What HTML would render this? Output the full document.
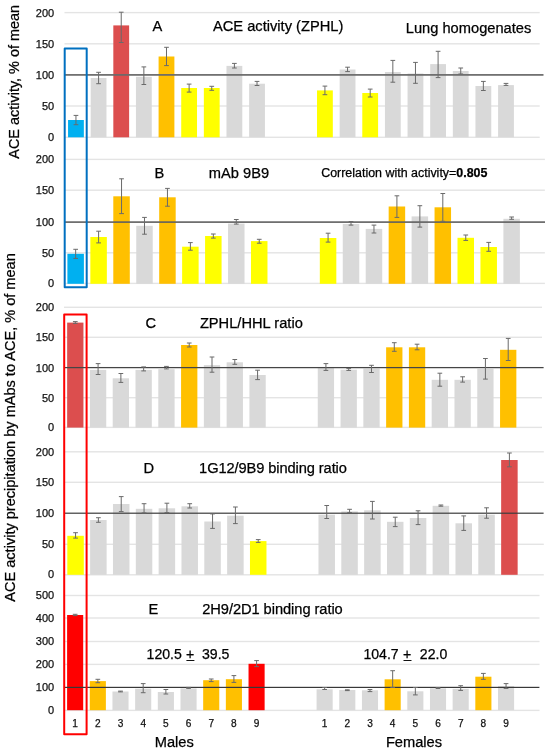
<!DOCTYPE html>
<html><head><meta charset="utf-8"><style>
html,body{margin:0;padding:0;background:#fff;}
svg{display:block;}
text{font-family:"Liberation Sans",Arial,sans-serif;fill:#000;stroke:#000;stroke-width:0.25px;white-space:pre;}
text.lab{fill:#111;stroke:#111;}
</style></head><body>
<svg width="550" height="752" viewBox="0 0 550 752">
<rect x="0" y="0" width="550" height="752" fill="#fff"/>
<rect x="64.50" y="11.90" width="475.20" height="1.40" fill="#E4E4E4"/>
<rect x="64.50" y="43.10" width="475.20" height="1.40" fill="#E4E4E4"/>
<rect x="64.50" y="105.30" width="475.20" height="1.40" fill="#E4E4E4"/>
<rect x="64.50" y="136.60" width="475.20" height="1.40" fill="#E4E4E4"/>
<rect x="68.05" y="120.00" width="15.80" height="17.30" fill="#00B0F0"/>
<rect x="90.68" y="78.00" width="15.80" height="59.30" fill="#D9D9D9"/>
<rect x="113.32" y="25.40" width="15.80" height="111.90" fill="#DC4E4E"/>
<rect x="135.95" y="76.80" width="15.80" height="60.50" fill="#D9D9D9"/>
<rect x="158.59" y="56.50" width="15.80" height="80.80" fill="#FFC000"/>
<rect x="181.22" y="88.00" width="15.80" height="49.30" fill="#FFFF00"/>
<rect x="203.85" y="88.00" width="15.80" height="49.30" fill="#FFFF00"/>
<rect x="226.49" y="65.90" width="15.80" height="71.40" fill="#D9D9D9"/>
<rect x="249.12" y="83.70" width="15.80" height="53.60" fill="#D9D9D9"/>
<rect x="317.02" y="90.40" width="15.80" height="46.90" fill="#FFFF00"/>
<rect x="339.66" y="69.50" width="15.80" height="67.80" fill="#D9D9D9"/>
<rect x="362.29" y="93.00" width="15.80" height="44.30" fill="#FFFF00"/>
<rect x="384.93" y="72.00" width="15.80" height="65.30" fill="#D9D9D9"/>
<rect x="407.56" y="73.50" width="15.80" height="63.80" fill="#D9D9D9"/>
<rect x="430.19" y="64.10" width="15.80" height="73.20" fill="#D9D9D9"/>
<rect x="452.83" y="71.00" width="15.80" height="66.30" fill="#D9D9D9"/>
<rect x="475.46" y="86.00" width="15.80" height="51.30" fill="#D9D9D9"/>
<rect x="498.10" y="85.10" width="15.80" height="52.20" fill="#D9D9D9"/>
<rect x="64.50" y="74.05" width="479.00" height="1.70" fill="#6a6a6a"/>
<rect x="75.45" y="115.40" width="1.00" height="9.30" fill="#6a6a6a"/>
<rect x="73.60" y="114.90" width="4.70" height="1.00" fill="#6a6a6a"/>
<rect x="73.60" y="124.20" width="4.70" height="1.00" fill="#6a6a6a"/>
<rect x="98.08" y="72.30" width="1.00" height="11.40" fill="#6a6a6a"/>
<rect x="96.23" y="71.80" width="4.70" height="1.00" fill="#6a6a6a"/>
<rect x="96.23" y="83.20" width="4.70" height="1.00" fill="#6a6a6a"/>
<rect x="120.72" y="12.20" width="1.00" height="30.30" fill="#6a6a6a"/>
<rect x="118.87" y="11.70" width="4.70" height="1.00" fill="#6a6a6a"/>
<rect x="118.87" y="42.00" width="4.70" height="1.00" fill="#6a6a6a"/>
<rect x="143.35" y="66.90" width="1.00" height="17.60" fill="#6a6a6a"/>
<rect x="141.50" y="66.40" width="4.70" height="1.00" fill="#6a6a6a"/>
<rect x="141.50" y="84.00" width="4.70" height="1.00" fill="#6a6a6a"/>
<rect x="165.99" y="47.30" width="1.00" height="18.30" fill="#6a6a6a"/>
<rect x="164.14" y="46.80" width="4.70" height="1.00" fill="#6a6a6a"/>
<rect x="164.14" y="65.10" width="4.70" height="1.00" fill="#6a6a6a"/>
<rect x="188.62" y="84.10" width="1.00" height="8.00" fill="#6a6a6a"/>
<rect x="186.77" y="83.60" width="4.70" height="1.00" fill="#6a6a6a"/>
<rect x="186.77" y="91.60" width="4.70" height="1.00" fill="#6a6a6a"/>
<rect x="211.25" y="86.30" width="1.00" height="4.00" fill="#6a6a6a"/>
<rect x="209.40" y="85.80" width="4.70" height="1.00" fill="#6a6a6a"/>
<rect x="209.40" y="89.80" width="4.70" height="1.00" fill="#6a6a6a"/>
<rect x="233.89" y="63.40" width="1.00" height="4.60" fill="#6a6a6a"/>
<rect x="232.04" y="62.90" width="4.70" height="1.00" fill="#6a6a6a"/>
<rect x="232.04" y="67.50" width="4.70" height="1.00" fill="#6a6a6a"/>
<rect x="256.52" y="81.40" width="1.00" height="4.10" fill="#6a6a6a"/>
<rect x="254.67" y="80.90" width="4.70" height="1.00" fill="#6a6a6a"/>
<rect x="254.67" y="85.00" width="4.70" height="1.00" fill="#6a6a6a"/>
<rect x="324.42" y="86.10" width="1.00" height="8.60" fill="#6a6a6a"/>
<rect x="322.57" y="85.60" width="4.70" height="1.00" fill="#6a6a6a"/>
<rect x="322.57" y="94.20" width="4.70" height="1.00" fill="#6a6a6a"/>
<rect x="347.06" y="67.20" width="1.00" height="4.40" fill="#6a6a6a"/>
<rect x="345.21" y="66.70" width="4.70" height="1.00" fill="#6a6a6a"/>
<rect x="345.21" y="71.10" width="4.70" height="1.00" fill="#6a6a6a"/>
<rect x="369.69" y="89.10" width="1.00" height="7.90" fill="#6a6a6a"/>
<rect x="367.84" y="88.60" width="4.70" height="1.00" fill="#6a6a6a"/>
<rect x="367.84" y="96.50" width="4.70" height="1.00" fill="#6a6a6a"/>
<rect x="392.33" y="60.40" width="1.00" height="21.80" fill="#6a6a6a"/>
<rect x="390.48" y="59.90" width="4.70" height="1.00" fill="#6a6a6a"/>
<rect x="390.48" y="81.70" width="4.70" height="1.00" fill="#6a6a6a"/>
<rect x="414.96" y="62.40" width="1.00" height="20.90" fill="#6a6a6a"/>
<rect x="413.11" y="61.90" width="4.70" height="1.00" fill="#6a6a6a"/>
<rect x="413.11" y="82.80" width="4.70" height="1.00" fill="#6a6a6a"/>
<rect x="437.59" y="51.30" width="1.00" height="26.30" fill="#6a6a6a"/>
<rect x="435.74" y="50.80" width="4.70" height="1.00" fill="#6a6a6a"/>
<rect x="435.74" y="77.10" width="4.70" height="1.00" fill="#6a6a6a"/>
<rect x="460.23" y="68.00" width="1.00" height="6.00" fill="#6a6a6a"/>
<rect x="458.38" y="67.50" width="4.70" height="1.00" fill="#6a6a6a"/>
<rect x="458.38" y="73.50" width="4.70" height="1.00" fill="#6a6a6a"/>
<rect x="482.86" y="81.40" width="1.00" height="9.10" fill="#6a6a6a"/>
<rect x="481.01" y="80.90" width="4.70" height="1.00" fill="#6a6a6a"/>
<rect x="481.01" y="90.00" width="4.70" height="1.00" fill="#6a6a6a"/>
<rect x="505.50" y="83.40" width="1.00" height="2.00" fill="#6a6a6a"/>
<rect x="503.65" y="82.90" width="4.70" height="1.00" fill="#6a6a6a"/>
<rect x="503.65" y="84.90" width="4.70" height="1.00" fill="#6a6a6a"/>
<text x="54.20" y="16.64" font-size="11" text-anchor="end" class="lab">200</text>
<text x="54.20" y="47.84" font-size="11" text-anchor="end" class="lab">150</text>
<text x="54.20" y="78.64" font-size="11" text-anchor="end" class="lab">100</text>
<text x="54.20" y="110.34" font-size="11" text-anchor="end" class="lab">50</text>
<text x="54.20" y="140.94" font-size="11" text-anchor="end" class="lab">0</text>
<rect x="64.20" y="158.70" width="480.70" height="1.40" fill="#E4E4E4"/>
<rect x="64.20" y="189.50" width="480.70" height="1.40" fill="#E4E4E4"/>
<rect x="64.20" y="252.10" width="480.70" height="1.40" fill="#E4E4E4"/>
<rect x="64.20" y="282.70" width="480.70" height="1.40" fill="#E4E4E4"/>
<rect x="67.40" y="253.80" width="16.50" height="30.00" fill="#00B0F0"/>
<rect x="90.35" y="237.00" width="16.50" height="46.80" fill="#FFFF00"/>
<rect x="113.29" y="196.30" width="16.50" height="87.50" fill="#FFC000"/>
<rect x="136.24" y="225.80" width="16.50" height="58.00" fill="#D9D9D9"/>
<rect x="159.19" y="197.30" width="16.50" height="86.50" fill="#FFC000"/>
<rect x="182.13" y="246.70" width="16.50" height="37.10" fill="#FFFF00"/>
<rect x="205.08" y="236.00" width="16.50" height="47.80" fill="#FFFF00"/>
<rect x="228.03" y="223.60" width="16.50" height="60.20" fill="#D9D9D9"/>
<rect x="250.98" y="241.10" width="16.50" height="42.70" fill="#FFFF00"/>
<rect x="319.82" y="238.00" width="16.50" height="45.80" fill="#FFFF00"/>
<rect x="342.76" y="224.00" width="16.50" height="59.80" fill="#D9D9D9"/>
<rect x="365.71" y="228.90" width="16.50" height="54.90" fill="#D9D9D9"/>
<rect x="388.66" y="206.50" width="16.50" height="77.30" fill="#FFC000"/>
<rect x="411.61" y="216.40" width="16.50" height="67.40" fill="#D9D9D9"/>
<rect x="434.55" y="207.30" width="16.50" height="76.50" fill="#FFC000"/>
<rect x="457.50" y="237.80" width="16.50" height="46.00" fill="#FFFF00"/>
<rect x="480.45" y="247.00" width="16.50" height="36.80" fill="#FFFF00"/>
<rect x="503.39" y="218.80" width="16.50" height="65.00" fill="#D9D9D9"/>
<rect x="64.20" y="221.30" width="480.80" height="1.60" fill="#606060"/>
<rect x="75.15" y="249.30" width="1.00" height="9.10" fill="#6a6a6a"/>
<rect x="73.30" y="248.80" width="4.70" height="1.00" fill="#6a6a6a"/>
<rect x="73.30" y="257.90" width="4.70" height="1.00" fill="#6a6a6a"/>
<rect x="98.10" y="231.20" width="1.00" height="11.70" fill="#6a6a6a"/>
<rect x="96.25" y="230.70" width="4.70" height="1.00" fill="#6a6a6a"/>
<rect x="96.25" y="242.40" width="4.70" height="1.00" fill="#6a6a6a"/>
<rect x="121.04" y="178.80" width="1.00" height="34.80" fill="#6a6a6a"/>
<rect x="119.19" y="178.30" width="4.70" height="1.00" fill="#6a6a6a"/>
<rect x="119.19" y="213.10" width="4.70" height="1.00" fill="#6a6a6a"/>
<rect x="143.99" y="217.40" width="1.00" height="16.80" fill="#6a6a6a"/>
<rect x="142.14" y="216.90" width="4.70" height="1.00" fill="#6a6a6a"/>
<rect x="142.14" y="233.70" width="4.70" height="1.00" fill="#6a6a6a"/>
<rect x="166.94" y="188.40" width="1.00" height="17.80" fill="#6a6a6a"/>
<rect x="165.09" y="187.90" width="4.70" height="1.00" fill="#6a6a6a"/>
<rect x="165.09" y="205.70" width="4.70" height="1.00" fill="#6a6a6a"/>
<rect x="189.88" y="242.60" width="1.00" height="7.60" fill="#6a6a6a"/>
<rect x="188.03" y="242.10" width="4.70" height="1.00" fill="#6a6a6a"/>
<rect x="188.03" y="249.70" width="4.70" height="1.00" fill="#6a6a6a"/>
<rect x="212.83" y="234.00" width="1.00" height="4.10" fill="#6a6a6a"/>
<rect x="210.98" y="233.50" width="4.70" height="1.00" fill="#6a6a6a"/>
<rect x="210.98" y="237.60" width="4.70" height="1.00" fill="#6a6a6a"/>
<rect x="235.78" y="219.50" width="1.00" height="4.60" fill="#6a6a6a"/>
<rect x="233.93" y="219.00" width="4.70" height="1.00" fill="#6a6a6a"/>
<rect x="233.93" y="223.60" width="4.70" height="1.00" fill="#6a6a6a"/>
<rect x="258.73" y="239.30" width="1.00" height="3.90" fill="#6a6a6a"/>
<rect x="256.88" y="238.80" width="4.70" height="1.00" fill="#6a6a6a"/>
<rect x="256.88" y="242.70" width="4.70" height="1.00" fill="#6a6a6a"/>
<rect x="327.57" y="233.20" width="1.00" height="8.90" fill="#6a6a6a"/>
<rect x="325.72" y="232.70" width="4.70" height="1.00" fill="#6a6a6a"/>
<rect x="325.72" y="241.60" width="4.70" height="1.00" fill="#6a6a6a"/>
<rect x="350.51" y="221.50" width="1.00" height="3.60" fill="#6a6a6a"/>
<rect x="348.66" y="221.00" width="4.70" height="1.00" fill="#6a6a6a"/>
<rect x="348.66" y="224.60" width="4.70" height="1.00" fill="#6a6a6a"/>
<rect x="373.46" y="225.10" width="1.00" height="7.90" fill="#6a6a6a"/>
<rect x="371.61" y="224.60" width="4.70" height="1.00" fill="#6a6a6a"/>
<rect x="371.61" y="232.50" width="4.70" height="1.00" fill="#6a6a6a"/>
<rect x="396.41" y="195.80" width="1.00" height="21.60" fill="#6a6a6a"/>
<rect x="394.56" y="195.30" width="4.70" height="1.00" fill="#6a6a6a"/>
<rect x="394.56" y="216.90" width="4.70" height="1.00" fill="#6a6a6a"/>
<rect x="419.36" y="205.70" width="1.00" height="21.40" fill="#6a6a6a"/>
<rect x="417.50" y="205.20" width="4.70" height="1.00" fill="#6a6a6a"/>
<rect x="417.50" y="226.60" width="4.70" height="1.00" fill="#6a6a6a"/>
<rect x="442.30" y="193.50" width="1.00" height="27.80" fill="#6a6a6a"/>
<rect x="440.45" y="193.00" width="4.70" height="1.00" fill="#6a6a6a"/>
<rect x="440.45" y="220.80" width="4.70" height="1.00" fill="#6a6a6a"/>
<rect x="465.25" y="235.00" width="1.00" height="5.40" fill="#6a6a6a"/>
<rect x="463.40" y="234.50" width="4.70" height="1.00" fill="#6a6a6a"/>
<rect x="463.40" y="239.90" width="4.70" height="1.00" fill="#6a6a6a"/>
<rect x="488.20" y="242.40" width="1.00" height="8.90" fill="#6a6a6a"/>
<rect x="486.35" y="241.90" width="4.70" height="1.00" fill="#6a6a6a"/>
<rect x="486.35" y="250.80" width="4.70" height="1.00" fill="#6a6a6a"/>
<rect x="511.14" y="217.00" width="1.00" height="2.30" fill="#6a6a6a"/>
<rect x="509.29" y="216.50" width="4.70" height="1.00" fill="#6a6a6a"/>
<rect x="509.29" y="218.80" width="4.70" height="1.00" fill="#6a6a6a"/>
<text x="54.20" y="163.14" font-size="11" text-anchor="end" class="lab">200</text>
<text x="54.20" y="194.14" font-size="11" text-anchor="end" class="lab">150</text>
<text x="54.20" y="225.94" font-size="11" text-anchor="end" class="lab">100</text>
<text x="54.20" y="256.74" font-size="11" text-anchor="end" class="lab">50</text>
<text x="54.20" y="287.14" font-size="11" text-anchor="end" class="lab">0</text>
<rect x="64.00" y="306.60" width="478.00" height="1.40" fill="#E4E4E4"/>
<rect x="64.00" y="336.60" width="478.00" height="1.40" fill="#E4E4E4"/>
<rect x="64.00" y="397.00" width="478.00" height="1.40" fill="#E4E4E4"/>
<rect x="64.00" y="426.70" width="478.00" height="1.40" fill="#E4E4E4"/>
<rect x="67.15" y="322.60" width="16.30" height="105.00" fill="#DC4E4E"/>
<rect x="89.93" y="369.90" width="16.30" height="57.70" fill="#D9D9D9"/>
<rect x="112.72" y="378.30" width="16.30" height="49.30" fill="#D9D9D9"/>
<rect x="135.50" y="369.90" width="16.30" height="57.70" fill="#D9D9D9"/>
<rect x="158.29" y="369.20" width="16.30" height="58.40" fill="#D9D9D9"/>
<rect x="181.07" y="345.00" width="16.30" height="82.60" fill="#FFC000"/>
<rect x="203.85" y="365.10" width="16.30" height="62.50" fill="#D9D9D9"/>
<rect x="226.64" y="362.30" width="16.30" height="65.30" fill="#D9D9D9"/>
<rect x="249.42" y="375.00" width="16.30" height="52.60" fill="#D9D9D9"/>
<rect x="317.77" y="368.10" width="16.30" height="59.50" fill="#D9D9D9"/>
<rect x="340.56" y="369.70" width="16.30" height="57.90" fill="#D9D9D9"/>
<rect x="363.34" y="368.60" width="16.30" height="59.00" fill="#D9D9D9"/>
<rect x="386.13" y="347.30" width="16.30" height="80.30" fill="#FFC000"/>
<rect x="408.91" y="347.30" width="16.30" height="80.30" fill="#FFC000"/>
<rect x="431.69" y="379.80" width="16.30" height="47.80" fill="#D9D9D9"/>
<rect x="454.48" y="379.80" width="16.30" height="47.80" fill="#D9D9D9"/>
<rect x="477.26" y="368.90" width="16.30" height="58.70" fill="#D9D9D9"/>
<rect x="500.05" y="349.80" width="16.30" height="77.80" fill="#FFC000"/>
<rect x="64.00" y="366.98" width="479.60" height="1.25" fill="#454545"/>
<rect x="74.80" y="321.60" width="1.00" height="1.80" fill="#6a6a6a"/>
<rect x="72.95" y="321.10" width="4.70" height="1.00" fill="#6a6a6a"/>
<rect x="72.95" y="322.90" width="4.70" height="1.00" fill="#6a6a6a"/>
<rect x="97.58" y="363.60" width="1.00" height="10.90" fill="#6a6a6a"/>
<rect x="95.73" y="363.10" width="4.70" height="1.00" fill="#6a6a6a"/>
<rect x="95.73" y="374.00" width="4.70" height="1.00" fill="#6a6a6a"/>
<rect x="120.37" y="373.50" width="1.00" height="8.90" fill="#6a6a6a"/>
<rect x="118.52" y="373.00" width="4.70" height="1.00" fill="#6a6a6a"/>
<rect x="118.52" y="381.90" width="4.70" height="1.00" fill="#6a6a6a"/>
<rect x="143.15" y="366.90" width="1.00" height="4.00" fill="#6a6a6a"/>
<rect x="141.30" y="366.40" width="4.70" height="1.00" fill="#6a6a6a"/>
<rect x="141.30" y="370.40" width="4.70" height="1.00" fill="#6a6a6a"/>
<rect x="165.94" y="366.40" width="1.00" height="2.50" fill="#6a6a6a"/>
<rect x="164.09" y="365.90" width="4.70" height="1.00" fill="#6a6a6a"/>
<rect x="164.09" y="368.40" width="4.70" height="1.00" fill="#6a6a6a"/>
<rect x="188.72" y="343.00" width="1.00" height="4.00" fill="#6a6a6a"/>
<rect x="186.87" y="342.50" width="4.70" height="1.00" fill="#6a6a6a"/>
<rect x="186.87" y="346.50" width="4.70" height="1.00" fill="#6a6a6a"/>
<rect x="211.50" y="357.00" width="1.00" height="15.20" fill="#6a6a6a"/>
<rect x="209.65" y="356.50" width="4.70" height="1.00" fill="#6a6a6a"/>
<rect x="209.65" y="371.70" width="4.70" height="1.00" fill="#6a6a6a"/>
<rect x="234.29" y="359.50" width="1.00" height="4.80" fill="#6a6a6a"/>
<rect x="232.44" y="359.00" width="4.70" height="1.00" fill="#6a6a6a"/>
<rect x="232.44" y="363.80" width="4.70" height="1.00" fill="#6a6a6a"/>
<rect x="257.07" y="370.20" width="1.00" height="9.40" fill="#6a6a6a"/>
<rect x="255.22" y="369.70" width="4.70" height="1.00" fill="#6a6a6a"/>
<rect x="255.22" y="379.10" width="4.70" height="1.00" fill="#6a6a6a"/>
<rect x="325.42" y="363.60" width="1.00" height="6.80" fill="#6a6a6a"/>
<rect x="323.57" y="363.10" width="4.70" height="1.00" fill="#6a6a6a"/>
<rect x="323.57" y="369.90" width="4.70" height="1.00" fill="#6a6a6a"/>
<rect x="348.21" y="368.40" width="1.00" height="2.00" fill="#6a6a6a"/>
<rect x="346.36" y="367.90" width="4.70" height="1.00" fill="#6a6a6a"/>
<rect x="346.36" y="369.90" width="4.70" height="1.00" fill="#6a6a6a"/>
<rect x="370.99" y="365.30" width="1.00" height="7.20" fill="#6a6a6a"/>
<rect x="369.14" y="364.80" width="4.70" height="1.00" fill="#6a6a6a"/>
<rect x="369.14" y="372.00" width="4.70" height="1.00" fill="#6a6a6a"/>
<rect x="393.78" y="342.70" width="1.00" height="8.60" fill="#6a6a6a"/>
<rect x="391.93" y="342.20" width="4.70" height="1.00" fill="#6a6a6a"/>
<rect x="391.93" y="350.80" width="4.70" height="1.00" fill="#6a6a6a"/>
<rect x="416.56" y="344.20" width="1.00" height="5.60" fill="#6a6a6a"/>
<rect x="414.71" y="343.70" width="4.70" height="1.00" fill="#6a6a6a"/>
<rect x="414.71" y="349.30" width="4.70" height="1.00" fill="#6a6a6a"/>
<rect x="439.34" y="373.20" width="1.00" height="13.00" fill="#6a6a6a"/>
<rect x="437.49" y="372.70" width="4.70" height="1.00" fill="#6a6a6a"/>
<rect x="437.49" y="385.70" width="4.70" height="1.00" fill="#6a6a6a"/>
<rect x="462.13" y="376.80" width="1.00" height="5.30" fill="#6a6a6a"/>
<rect x="460.28" y="376.30" width="4.70" height="1.00" fill="#6a6a6a"/>
<rect x="460.28" y="381.60" width="4.70" height="1.00" fill="#6a6a6a"/>
<rect x="484.91" y="358.50" width="1.00" height="20.60" fill="#6a6a6a"/>
<rect x="483.06" y="358.00" width="4.70" height="1.00" fill="#6a6a6a"/>
<rect x="483.06" y="378.60" width="4.70" height="1.00" fill="#6a6a6a"/>
<rect x="507.70" y="338.40" width="1.00" height="22.10" fill="#6a6a6a"/>
<rect x="505.85" y="337.90" width="4.70" height="1.00" fill="#6a6a6a"/>
<rect x="505.85" y="360.00" width="4.70" height="1.00" fill="#6a6a6a"/>
<text x="54.20" y="311.24" font-size="11" text-anchor="end" class="lab">200</text>
<text x="54.20" y="341.24" font-size="11" text-anchor="end" class="lab">150</text>
<text x="54.20" y="371.54" font-size="11" text-anchor="end" class="lab">100</text>
<text x="54.20" y="401.64" font-size="11" text-anchor="end" class="lab">50</text>
<text x="54.20" y="431.34" font-size="11" text-anchor="end" class="lab">0</text>
<rect x="64.00" y="451.10" width="479.80" height="1.40" fill="#E4E4E4"/>
<rect x="64.00" y="481.60" width="479.80" height="1.40" fill="#E4E4E4"/>
<rect x="64.00" y="543.60" width="479.80" height="1.40" fill="#E4E4E4"/>
<rect x="64.00" y="574.10" width="479.80" height="1.40" fill="#E4E4E4"/>
<rect x="67.30" y="535.80" width="16.50" height="39.00" fill="#FFFF00"/>
<rect x="90.13" y="520.00" width="16.50" height="54.80" fill="#D9D9D9"/>
<rect x="112.97" y="504.00" width="16.50" height="70.80" fill="#D9D9D9"/>
<rect x="135.80" y="508.80" width="16.50" height="66.00" fill="#D9D9D9"/>
<rect x="158.64" y="508.30" width="16.50" height="66.50" fill="#D9D9D9"/>
<rect x="181.47" y="506.30" width="16.50" height="68.50" fill="#D9D9D9"/>
<rect x="204.30" y="521.50" width="16.50" height="53.30" fill="#D9D9D9"/>
<rect x="227.14" y="515.70" width="16.50" height="59.10" fill="#D9D9D9"/>
<rect x="249.97" y="541.10" width="16.50" height="33.70" fill="#FFFF00"/>
<rect x="318.47" y="514.70" width="16.50" height="60.10" fill="#D9D9D9"/>
<rect x="341.31" y="511.40" width="16.50" height="63.40" fill="#D9D9D9"/>
<rect x="364.14" y="510.30" width="16.50" height="64.50" fill="#D9D9D9"/>
<rect x="386.98" y="521.80" width="16.50" height="53.00" fill="#D9D9D9"/>
<rect x="409.81" y="518.00" width="16.50" height="56.80" fill="#D9D9D9"/>
<rect x="432.64" y="505.80" width="16.50" height="69.00" fill="#D9D9D9"/>
<rect x="455.48" y="523.30" width="16.50" height="51.50" fill="#D9D9D9"/>
<rect x="478.31" y="514.70" width="16.50" height="60.10" fill="#D9D9D9"/>
<rect x="501.15" y="460.00" width="16.50" height="114.80" fill="#DC4E4E"/>
<rect x="64.00" y="512.60" width="479.60" height="1.20" fill="#3c3c3c"/>
<rect x="75.05" y="532.70" width="1.00" height="5.40" fill="#6a6a6a"/>
<rect x="73.20" y="532.20" width="4.70" height="1.00" fill="#6a6a6a"/>
<rect x="73.20" y="537.60" width="4.70" height="1.00" fill="#6a6a6a"/>
<rect x="97.88" y="517.70" width="1.00" height="4.60" fill="#6a6a6a"/>
<rect x="96.03" y="517.20" width="4.70" height="1.00" fill="#6a6a6a"/>
<rect x="96.03" y="521.80" width="4.70" height="1.00" fill="#6a6a6a"/>
<rect x="120.72" y="496.60" width="1.00" height="15.00" fill="#6a6a6a"/>
<rect x="118.87" y="496.10" width="4.70" height="1.00" fill="#6a6a6a"/>
<rect x="118.87" y="511.10" width="4.70" height="1.00" fill="#6a6a6a"/>
<rect x="143.55" y="503.70" width="1.00" height="9.20" fill="#6a6a6a"/>
<rect x="141.70" y="503.20" width="4.70" height="1.00" fill="#6a6a6a"/>
<rect x="141.70" y="512.40" width="4.70" height="1.00" fill="#6a6a6a"/>
<rect x="166.39" y="503.20" width="1.00" height="9.40" fill="#6a6a6a"/>
<rect x="164.54" y="502.70" width="4.70" height="1.00" fill="#6a6a6a"/>
<rect x="164.54" y="512.10" width="4.70" height="1.00" fill="#6a6a6a"/>
<rect x="189.22" y="503.70" width="1.00" height="4.30" fill="#6a6a6a"/>
<rect x="187.37" y="503.20" width="4.70" height="1.00" fill="#6a6a6a"/>
<rect x="187.37" y="507.50" width="4.70" height="1.00" fill="#6a6a6a"/>
<rect x="212.05" y="513.90" width="1.00" height="14.50" fill="#6a6a6a"/>
<rect x="210.20" y="513.40" width="4.70" height="1.00" fill="#6a6a6a"/>
<rect x="210.20" y="527.90" width="4.70" height="1.00" fill="#6a6a6a"/>
<rect x="234.89" y="507.00" width="1.00" height="16.60" fill="#6a6a6a"/>
<rect x="233.04" y="506.50" width="4.70" height="1.00" fill="#6a6a6a"/>
<rect x="233.04" y="523.10" width="4.70" height="1.00" fill="#6a6a6a"/>
<rect x="257.72" y="539.60" width="1.00" height="2.80" fill="#6a6a6a"/>
<rect x="255.87" y="539.10" width="4.70" height="1.00" fill="#6a6a6a"/>
<rect x="255.87" y="541.90" width="4.70" height="1.00" fill="#6a6a6a"/>
<rect x="326.22" y="505.50" width="1.00" height="13.00" fill="#6a6a6a"/>
<rect x="324.37" y="505.00" width="4.70" height="1.00" fill="#6a6a6a"/>
<rect x="324.37" y="518.00" width="4.70" height="1.00" fill="#6a6a6a"/>
<rect x="349.06" y="509.30" width="1.00" height="3.30" fill="#6a6a6a"/>
<rect x="347.21" y="508.80" width="4.70" height="1.00" fill="#6a6a6a"/>
<rect x="347.21" y="512.10" width="4.70" height="1.00" fill="#6a6a6a"/>
<rect x="371.89" y="501.40" width="1.00" height="17.60" fill="#6a6a6a"/>
<rect x="370.04" y="500.90" width="4.70" height="1.00" fill="#6a6a6a"/>
<rect x="370.04" y="518.50" width="4.70" height="1.00" fill="#6a6a6a"/>
<rect x="394.73" y="517.20" width="1.00" height="9.40" fill="#6a6a6a"/>
<rect x="392.88" y="516.70" width="4.70" height="1.00" fill="#6a6a6a"/>
<rect x="392.88" y="526.10" width="4.70" height="1.00" fill="#6a6a6a"/>
<rect x="417.56" y="510.80" width="1.00" height="13.80" fill="#6a6a6a"/>
<rect x="415.71" y="510.30" width="4.70" height="1.00" fill="#6a6a6a"/>
<rect x="415.71" y="524.10" width="4.70" height="1.00" fill="#6a6a6a"/>
<rect x="440.39" y="505.00" width="1.00" height="1.20" fill="#6a6a6a"/>
<rect x="438.54" y="504.50" width="4.70" height="1.00" fill="#6a6a6a"/>
<rect x="438.54" y="505.70" width="4.70" height="1.00" fill="#6a6a6a"/>
<rect x="463.23" y="515.90" width="1.00" height="14.50" fill="#6a6a6a"/>
<rect x="461.38" y="515.40" width="4.70" height="1.00" fill="#6a6a6a"/>
<rect x="461.38" y="529.90" width="4.70" height="1.00" fill="#6a6a6a"/>
<rect x="486.06" y="507.80" width="1.00" height="10.40" fill="#6a6a6a"/>
<rect x="484.21" y="507.30" width="4.70" height="1.00" fill="#6a6a6a"/>
<rect x="484.21" y="517.70" width="4.70" height="1.00" fill="#6a6a6a"/>
<rect x="508.90" y="453.00" width="1.00" height="13.80" fill="#6a6a6a"/>
<rect x="507.05" y="452.50" width="4.70" height="1.00" fill="#6a6a6a"/>
<rect x="507.05" y="466.30" width="4.70" height="1.00" fill="#6a6a6a"/>
<text x="54.20" y="455.74" font-size="11" text-anchor="end" class="lab">200</text>
<text x="54.20" y="486.24" font-size="11" text-anchor="end" class="lab">150</text>
<text x="54.20" y="516.84" font-size="11" text-anchor="end" class="lab">100</text>
<text x="54.20" y="547.84" font-size="11" text-anchor="end" class="lab">50</text>
<text x="54.20" y="578.44" font-size="11" text-anchor="end" class="lab">0</text>
<rect x="64.00" y="594.80" width="475.50" height="1.40" fill="#E4E4E4"/>
<rect x="64.00" y="617.30" width="475.50" height="1.40" fill="#E4E4E4"/>
<rect x="64.00" y="640.80" width="475.50" height="1.40" fill="#E4E4E4"/>
<rect x="64.00" y="663.70" width="475.50" height="1.40" fill="#E4E4E4"/>
<rect x="64.00" y="709.70" width="475.50" height="1.40" fill="#E4E4E4"/>
<rect x="67.10" y="615.00" width="16.10" height="95.20" fill="#FF0000"/>
<rect x="89.78" y="681.10" width="16.10" height="29.10" fill="#FFC000"/>
<rect x="112.46" y="691.50" width="16.10" height="18.70" fill="#D9D9D9"/>
<rect x="135.14" y="688.70" width="16.10" height="21.50" fill="#D9D9D9"/>
<rect x="157.82" y="692.00" width="16.10" height="18.20" fill="#D9D9D9"/>
<rect x="180.50" y="688.40" width="16.10" height="21.80" fill="#D9D9D9"/>
<rect x="203.17" y="680.20" width="16.10" height="30.00" fill="#FFC000"/>
<rect x="225.85" y="679.20" width="16.10" height="31.00" fill="#FFC000"/>
<rect x="248.53" y="663.80" width="16.10" height="46.40" fill="#FF0000"/>
<rect x="316.57" y="689.30" width="16.10" height="20.90" fill="#D9D9D9"/>
<rect x="339.25" y="690.00" width="16.10" height="20.20" fill="#D9D9D9"/>
<rect x="361.93" y="690.30" width="16.10" height="19.90" fill="#D9D9D9"/>
<rect x="384.61" y="679.30" width="16.10" height="30.90" fill="#FFC000"/>
<rect x="407.29" y="691.30" width="16.10" height="18.90" fill="#D9D9D9"/>
<rect x="429.96" y="688.30" width="16.10" height="21.90" fill="#D9D9D9"/>
<rect x="452.64" y="688.80" width="16.10" height="21.40" fill="#D9D9D9"/>
<rect x="475.32" y="676.70" width="16.10" height="33.50" fill="#FFC000"/>
<rect x="498.00" y="686.00" width="16.10" height="24.20" fill="#D9D9D9"/>
<rect x="64.00" y="686.80" width="475.40" height="1.20" fill="#383838"/>
<rect x="74.65" y="614.30" width="1.00" height="1.30" fill="#6a6a6a"/>
<rect x="72.80" y="613.80" width="4.70" height="1.00" fill="#6a6a6a"/>
<rect x="72.80" y="615.10" width="4.70" height="1.00" fill="#6a6a6a"/>
<rect x="97.33" y="679.30" width="1.00" height="3.40" fill="#6a6a6a"/>
<rect x="95.48" y="678.80" width="4.70" height="1.00" fill="#6a6a6a"/>
<rect x="95.48" y="682.20" width="4.70" height="1.00" fill="#6a6a6a"/>
<rect x="120.01" y="691.10" width="1.00" height="0.80" fill="#6a6a6a"/>
<rect x="118.16" y="690.60" width="4.70" height="1.00" fill="#6a6a6a"/>
<rect x="118.16" y="691.40" width="4.70" height="1.00" fill="#6a6a6a"/>
<rect x="142.69" y="683.60" width="1.00" height="9.10" fill="#6a6a6a"/>
<rect x="140.84" y="683.10" width="4.70" height="1.00" fill="#6a6a6a"/>
<rect x="140.84" y="692.20" width="4.70" height="1.00" fill="#6a6a6a"/>
<rect x="165.37" y="689.50" width="1.00" height="4.50" fill="#6a6a6a"/>
<rect x="163.52" y="689.00" width="4.70" height="1.00" fill="#6a6a6a"/>
<rect x="163.52" y="693.50" width="4.70" height="1.00" fill="#6a6a6a"/>
<rect x="188.05" y="687.40" width="1.00" height="1.00" fill="#6a6a6a"/>
<rect x="186.20" y="686.90" width="4.70" height="1.00" fill="#6a6a6a"/>
<rect x="186.20" y="687.90" width="4.70" height="1.00" fill="#6a6a6a"/>
<rect x="210.72" y="679.00" width="1.00" height="2.60" fill="#6a6a6a"/>
<rect x="208.87" y="678.50" width="4.70" height="1.00" fill="#6a6a6a"/>
<rect x="208.87" y="681.10" width="4.70" height="1.00" fill="#6a6a6a"/>
<rect x="233.40" y="675.60" width="1.00" height="6.80" fill="#6a6a6a"/>
<rect x="231.55" y="675.10" width="4.70" height="1.00" fill="#6a6a6a"/>
<rect x="231.55" y="681.90" width="4.70" height="1.00" fill="#6a6a6a"/>
<rect x="256.08" y="660.60" width="1.00" height="6.00" fill="#6a6a6a"/>
<rect x="254.23" y="660.10" width="4.70" height="1.00" fill="#6a6a6a"/>
<rect x="254.23" y="666.10" width="4.70" height="1.00" fill="#6a6a6a"/>
<rect x="324.12" y="687.50" width="1.00" height="2.00" fill="#6a6a6a"/>
<rect x="322.27" y="687.00" width="4.70" height="1.00" fill="#6a6a6a"/>
<rect x="322.27" y="689.00" width="4.70" height="1.00" fill="#6a6a6a"/>
<rect x="346.80" y="689.80" width="1.00" height="0.80" fill="#6a6a6a"/>
<rect x="344.95" y="689.30" width="4.70" height="1.00" fill="#6a6a6a"/>
<rect x="344.95" y="690.10" width="4.70" height="1.00" fill="#6a6a6a"/>
<rect x="369.48" y="689.50" width="1.00" height="2.10" fill="#6a6a6a"/>
<rect x="367.63" y="689.00" width="4.70" height="1.00" fill="#6a6a6a"/>
<rect x="367.63" y="691.10" width="4.70" height="1.00" fill="#6a6a6a"/>
<rect x="392.16" y="670.70" width="1.00" height="16.80" fill="#6a6a6a"/>
<rect x="390.31" y="670.20" width="4.70" height="1.00" fill="#6a6a6a"/>
<rect x="390.31" y="687.00" width="4.70" height="1.00" fill="#6a6a6a"/>
<rect x="414.84" y="687.50" width="1.00" height="7.40" fill="#6a6a6a"/>
<rect x="412.99" y="687.00" width="4.70" height="1.00" fill="#6a6a6a"/>
<rect x="412.99" y="694.40" width="4.70" height="1.00" fill="#6a6a6a"/>
<rect x="437.51" y="687.50" width="1.00" height="1.00" fill="#6a6a6a"/>
<rect x="435.66" y="687.00" width="4.70" height="1.00" fill="#6a6a6a"/>
<rect x="435.66" y="688.00" width="4.70" height="1.00" fill="#6a6a6a"/>
<rect x="460.19" y="685.70" width="1.00" height="4.70" fill="#6a6a6a"/>
<rect x="458.34" y="685.20" width="4.70" height="1.00" fill="#6a6a6a"/>
<rect x="458.34" y="689.90" width="4.70" height="1.00" fill="#6a6a6a"/>
<rect x="482.87" y="673.40" width="1.00" height="5.90" fill="#6a6a6a"/>
<rect x="481.02" y="672.90" width="4.70" height="1.00" fill="#6a6a6a"/>
<rect x="481.02" y="678.80" width="4.70" height="1.00" fill="#6a6a6a"/>
<rect x="505.55" y="683.60" width="1.00" height="4.80" fill="#6a6a6a"/>
<rect x="503.70" y="683.10" width="4.70" height="1.00" fill="#6a6a6a"/>
<rect x="503.70" y="687.90" width="4.70" height="1.00" fill="#6a6a6a"/>
<text x="54.20" y="599.44" font-size="11" text-anchor="end" class="lab">500</text>
<text x="54.20" y="621.94" font-size="11" text-anchor="end" class="lab">400</text>
<text x="54.20" y="645.44" font-size="11" text-anchor="end" class="lab">300</text>
<text x="54.20" y="668.34" font-size="11" text-anchor="end" class="lab">200</text>
<text x="54.20" y="691.44" font-size="11" text-anchor="end" class="lab">100</text>
<text x="54.20" y="714.34" font-size="11" text-anchor="end" class="lab">0</text>
<rect x="64.7" y="48.5" width="22" height="238.7" fill="none" stroke="#0070C0" stroke-width="2" stroke-linejoin="round"/>
<rect x="64.2" y="314.4" width="22.4" height="419.8" fill="none" stroke="#FF0000" stroke-width="2" stroke-linejoin="round"/>
<text x="152.60" y="30.60" font-size="14.67">A</text>
<text x="213.00" y="31.00" font-size="14.67">ACE activity (ZPHL)</text>
<text x="405.80" y="32.60" font-size="14.67">Lung homogenates</text>
<text x="154.40" y="178.00" font-size="14.67">B</text>
<text x="208.80" y="178.00" font-size="14.67">mAb 9B9</text>
<text x="321.20" y="177.20" font-size="12.45">Correlation with activity=<tspan font-weight="bold">0.805</tspan></text>
<text x="145.40" y="328.20" font-size="14.67">C</text>
<text x="199.90" y="328.20" font-size="14.67">ZPHL/HHL ratio</text>
<text x="143.60" y="473.20" font-size="14.67">D</text>
<text x="199.10" y="473.20" font-size="14.67" letter-spacing="-0.1">1G12/9B9 binding ratio</text>
<text x="148.60" y="613.80" font-size="14.67">E</text>
<text x="202.20" y="613.80" font-size="14.67" letter-spacing="-0.06">2H9/2D1 binding ratio</text>
<text x="146.60" y="658.80" font-size="14.1">120.5</text>
<text x="186.00" y="658.80" font-size="14.1">+</text>
<text x="202.00" y="658.80" font-size="14.1">39.5</text>
<text x="363.40" y="658.80" font-size="14.1">104.7</text>
<text x="403.00" y="658.80" font-size="14.1">+</text>
<text x="419.80" y="658.80" font-size="14.1">22.0</text>
<rect x="186.40" y="660.00" width="8.00" height="1.00" fill="#111"/>
<rect x="403.50" y="660.00" width="8.00" height="1.00" fill="#111"/>
<text x="154.70" y="747.30" font-size="14.67">Males</text>
<text x="385.90" y="747.30" font-size="14.67">Females</text>
<text x="75.15" y="726.60" font-size="10.1" text-anchor="middle" class="lab">1</text>
<text x="324.62" y="726.60" font-size="10.1" text-anchor="middle" class="lab">1</text>
<text x="97.83" y="726.60" font-size="10.1" text-anchor="middle" class="lab">2</text>
<text x="347.30" y="726.60" font-size="10.1" text-anchor="middle" class="lab">2</text>
<text x="120.51" y="726.60" font-size="10.1" text-anchor="middle" class="lab">3</text>
<text x="369.98" y="726.60" font-size="10.1" text-anchor="middle" class="lab">3</text>
<text x="143.19" y="726.60" font-size="10.1" text-anchor="middle" class="lab">4</text>
<text x="392.66" y="726.60" font-size="10.1" text-anchor="middle" class="lab">4</text>
<text x="165.87" y="726.60" font-size="10.1" text-anchor="middle" class="lab">5</text>
<text x="415.34" y="726.60" font-size="10.1" text-anchor="middle" class="lab">5</text>
<text x="188.55" y="726.60" font-size="10.1" text-anchor="middle" class="lab">6</text>
<text x="438.01" y="726.60" font-size="10.1" text-anchor="middle" class="lab">6</text>
<text x="211.22" y="726.60" font-size="10.1" text-anchor="middle" class="lab">7</text>
<text x="460.69" y="726.60" font-size="10.1" text-anchor="middle" class="lab">7</text>
<text x="233.90" y="726.60" font-size="10.1" text-anchor="middle" class="lab">8</text>
<text x="483.37" y="726.60" font-size="10.1" text-anchor="middle" class="lab">8</text>
<text x="256.58" y="726.60" font-size="10.1" text-anchor="middle" class="lab">9</text>
<text x="506.05" y="726.60" font-size="10.1" text-anchor="middle" class="lab">9</text>
<text x="19.05" y="158.70" font-size="14.45" transform="rotate(-90 19.05 158.7)">ACE activity, % of mean</text>
<text x="14.80" y="601.70" font-size="14.55" transform="rotate(-90 14.8 601.7)">ACE activity precipitation by mAbs to ACE, % of mean</text>
</svg>
</body></html>
